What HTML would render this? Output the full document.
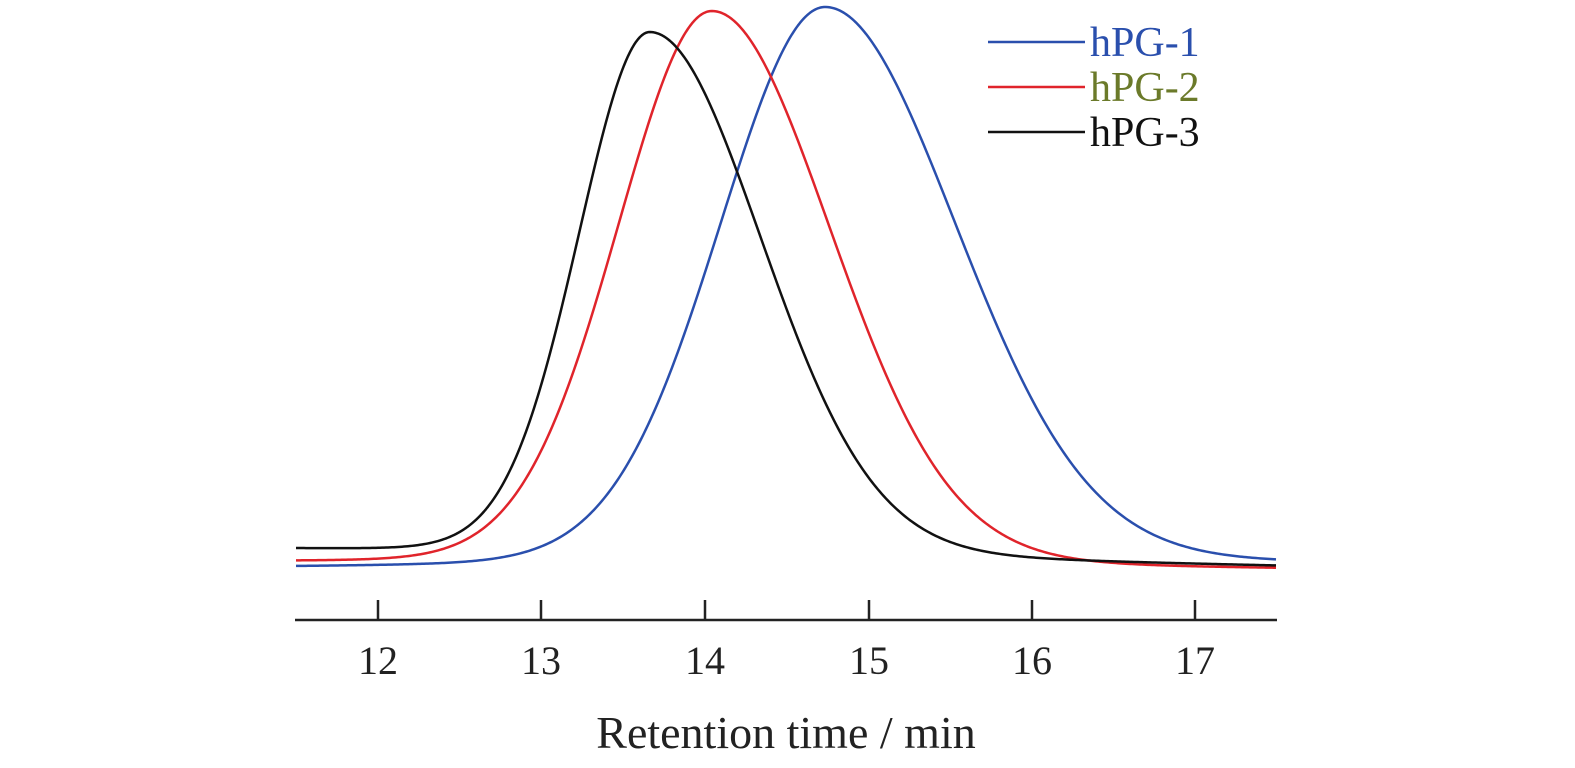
<!DOCTYPE html>
<html><head><meta charset="utf-8"><style>
body{margin:0;background:#fff;width:1575px;height:768px;overflow:hidden}
svg{display:block}
text{font-family:"Liberation Serif",serif}
</style></head><body>
<svg id="s" width="1575" height="768" viewBox="0 0 1575 768">
<line x1="295" y1="620" x2="1277" y2="620" stroke="#222" stroke-width="2.5"/>
<g stroke="#222" stroke-width="2.5">
<line x1="378" y1="600" x2="378" y2="620"/>
<line x1="541" y1="600" x2="541" y2="620"/>
<line x1="705" y1="600" x2="705" y2="620"/>
<line x1="869" y1="600" x2="869" y2="620"/>
<line x1="1032" y1="600" x2="1032" y2="620"/>
<line x1="1195" y1="600" x2="1195" y2="620"/>
</g>
<g font-size="40" fill="#222" text-anchor="middle">
<text x="378" y="674">12</text><text x="541" y="674">13</text><text x="705" y="674">14</text>
<text x="869" y="674">15</text><text x="1032" y="674">16</text><text x="1195" y="674">17</text>
</g>
<text x="786" y="748" font-size="46" fill="#222" text-anchor="middle">Retention time / min</text>
<line x1="988" y1="42" x2="1085" y2="42" stroke="#2a4fad" stroke-width="2.5"/>
<line x1="988" y1="87" x2="1085" y2="87" stroke="#e0242b" stroke-width="2.5"/>
<line x1="988" y1="132" x2="1085" y2="132" stroke="#111" stroke-width="2.5"/>
<g font-size="42">
<text x="1090" y="56" fill="#2a4fad">hPG-1</text>
<text x="1090" y="101" fill="#6b7a2a">hPG-2</text>
<text x="1090" y="146" fill="#111">hPG-3</text>
</g>
</svg>
<script>
const S=[
 ["#2a4fad",825,7,106,132,568,565],
 ["#e0242b",712,11,95,119,563,570],
 ["#111",650,32,72,112,550,567]];
const s=document.getElementById("s");
for(const [c,px,py,sl,sr,bl,br] of S){
 let d="";
 for(let x=296;x<=1277;x+=2){
  const t=(x-296)/981, b=bl+(br-bl)*t;
  const dx=x-px, sg=dx<0?sl:sr;
  const bp=bl+(br-bl)*(px-296)/981;
  const u=dx/sg;
  const g=Math.exp(-0.5*u*u), hw=1.1774, l=1/(1+(u/hw)*(u/hw));
  const f=0.93*g+0.07*l;
  const y=b-(bp-py)*f;
  d+=(d?"L":"M")+x+","+y.toFixed(2);
 }
 const el=document.createElementNS("http://www.w3.org/2000/svg","path");
 el.setAttribute("d",d);el.setAttribute("fill","none");el.setAttribute("stroke",c);el.setAttribute("stroke-width","2.5");el.setAttribute("stroke-linejoin","round");
 s.appendChild(el);
}
</script>
</body></html>
